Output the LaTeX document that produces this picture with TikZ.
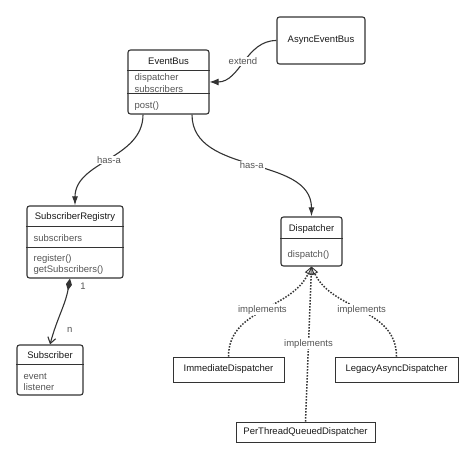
\documentclass[tikz,border=0pt]{standalone}
\usepackage{fontspec}
\setmainfont{Liberation Sans}
\usetikzlibrary{arrows.meta}
\usetikzlibrary{positioning}

\definecolor{linegray}{HTML}{333333}
\definecolor{textgray}{HTML}{555555}

\tikzset{
  uml/.style={font=\fontsize{9.5}{11}\selectfont},
  classbox/.style={draw=linegray, line width=1.1pt, rounded corners=2.5pt, inner sep=0pt},
  implbox/.style={draw=linegray, line width=0.9pt, inner sep=0pt, uml, text=black!90},
  title/.style={uml, text=black!90, inner sep=0pt},
  attr/.style={uml, text=textgray, anchor=west, inner sep=0pt},
  sep/.style={draw=linegray, line width=1pt},
  rel/.style={draw=linegray, line width=1.1pt},
  tag/.style={uml, text=textgray, fill=white, inner sep=1pt},
  hasa/.style={rel, -{Latex[length=9pt,width=6pt]}},
  extends/.style={rel, -{Latex[length=9pt,width=7pt]}},
  owns/.style={rel, {Diamond[length=12pt,width=6pt]}-{Straight Barb[length=6pt,width=8pt]}},
  realizes/.style={rel, line width=1.5pt, dash pattern=on 1.5pt off 1.5pt, -{Triangle[open,length=8pt,width=7pt,line width=0.9pt]}}
}

\begin{document}
\begin{tikzpicture}[x=1pt, y=1pt]
    \useasboundingbox (0,0) rectangle (474,463);

    % draw class boxes
    \node[classbox, minimum width=81pt, minimum height=64pt] (bus) at (168.5,381) {};
    \node[classbox, minimum width=88pt, minimum height=47pt] (async) at (321,422.5) {};
    \node[classbox, minimum width=96pt, minimum height=72pt] (registry) at (75,221) {};
    \node[classbox, minimum width=66pt, minimum height=50pt] (subscriber) at (50,93) {};
    \node[classbox, minimum width=61pt, minimum height=49pt] (dispatcher) at (311.5,221.5) {};

    % draw implementation boxes
    \node[implbox, minimum width=111pt, minimum height=25pt] (immediate) at (228.5,93.5) {ImmediateDispatcher};
    \node[implbox, minimum width=123pt, minimum height=25pt] (legacy) at (396.5,93.5) {LegacyAsyncDispatcher};
    \node[implbox, minimum width=139pt, minimum height=20pt] (perthread) at (305.5,31) {PerThreadQueuedDispatcher};

    % draw compartment lines
    \draw[sep] (bus.west |- 0,392) -- (bus.east |- 0,392);
    \draw[sep] (bus.west |- 0,369) -- (bus.east |- 0,369);
    \draw[sep] (registry.west |- 0,236) -- (registry.east |- 0,236);
    \draw[sep] (registry.west |- 0,215) -- (registry.east |- 0,215);
    \draw[sep] (subscriber.west |- 0,98) -- (subscriber.east |- 0,98);
    \draw[sep] (dispatcher.west |- 0,224) -- (dispatcher.east |- 0,224);

    % draw names and members
    \node[title] (busname) at (168.5,402) {EventBus};
    \node[attr] (busdisp) at ([xshift=7pt]bus.west |- 0,385) {dispatcher};
    \node[attr] (bussubs) at ([xshift=7pt]bus.west |- 0,374) {subscribers};
    \node[attr] (buspost) at ([xshift=7pt]bus.west |- 0,357) {post()};
    \node[title] (asyncname) at (async) {AsyncEventBus};
    \node[title] (regname) at (75,246) {SubscriberRegistry};
    \node[attr] (regsubs) at ([xshift=7pt]registry.west |- 0,225) {subscribers};
    \node[attr] (regreg) at ([xshift=7pt]registry.west |- 0,204) {register()};
    \node[attr] (regget) at ([xshift=7pt]registry.west |- 0,193) {getSubscribers()};
    \node[title] (subname) at (50,108) {Subscriber};
    \node[attr] (subevent) at ([xshift=7pt]subscriber.west |- 0,87) {event};
    \node[attr] (sublist) at ([xshift=7pt]subscriber.west |- 0,76) {listener};
    \node[title] (dispname) at (311.5,234) {Dispatcher};
    \node[attr] (dispdisp) at ([xshift=7pt]dispatcher.west |- 0,208) {dispatch()};

    % draw relations
    \draw[extends] (async.west) to[out=180, in=0]
      node[tag, pos=0.5] {extend} (bus.east);
    \draw[hasa] ([xshift=-25.5pt]bus.south) to[out=-90, in=90]
      node[tag, pos=0.5] {has-a} (registry.north);
    \draw[hasa] ([xshift=23.5pt]bus.south) to[out=-90, in=90]
      node[tag, pos=0.5] {has-a} (dispatcher.north);
    \draw[owns] ([xshift=-5pt]registry.south) to[out=-100, in=75]
      node[pos=0.1, right=8pt, uml, text=textgray] {1}
      node[pos=0.8, right=9pt, uml, text=textgray] {n} (subscriber.north);

    % draw implements
    \draw[realizes] (immediate.north) to[out=90, in=-115]
      node[tag, pos=0.5] {implements} (dispatcher.south);
    \draw[realizes] (perthread.north) --
      node[tag, pos=0.5] {implements} (dispatcher.south);
    \draw[realizes] (legacy.north) to[out=90, in=-65]
      node[tag, pos=0.5] {implements} (dispatcher.south);
\end{tikzpicture}
\end{document}
